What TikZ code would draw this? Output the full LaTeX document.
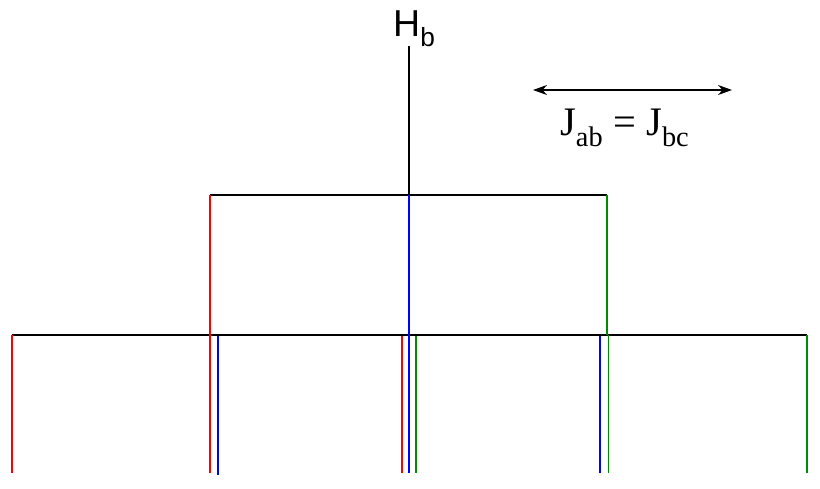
\documentclass[tikz,border=0pt]{standalone}
\usepackage{fontspec}
\setmainfont{Liberation Serif}
\newfontfamily\arialf{Liberation Sans}
\usetikzlibrary{arrows.meta}
\begin{document}
\begin{tikzpicture}[x=1pt,y=-1pt,
  ln/.style={line width=1.6pt},
  bk/.style={ln,black},
  rd/.style={ln,red},
  bl/.style={ln,blue},
  gr/.style={ln,green!55!black},
  lbl/.style={inner sep=0pt,anchor=base west}]
\useasboundingbox (0,0) rectangle (820,488);
% coordinates
\coordinate (top) at (409,46);
\coordinate (tc) at (409,195);
\coordinate (tl) at (210,195);
\coordinate (tr) at (607,195);
\coordinate (bl) at (12,335);
\coordinate (br) at (807,335);
\coordinate (ml) at (210,335);
\coordinate (mc) at (409,335);
\coordinate (mr) at (607,335);
% black lines
\draw[bk] (top) -- (tc);
\draw[bk] (tl) -- (tr);
\draw[bk] (bl) -- (br);
% upper verticals
\draw[rd] (tl) -- (ml);
\draw[bl] (tc) -- (mc);
\draw[gr] (tr) -- (mr);
% lower verticals
\coordinate (r1a) at (12,335);   \coordinate (r1b) at (12,473);
\coordinate (r2a) at (210,335);  \coordinate (r2b) at (210,473);
\coordinate (b2a) at (218,336);  \coordinate (b2b) at (218,475);
\coordinate (r3a) at (402,336);  \coordinate (r3b) at (402,473);
\coordinate (b3a) at (409,335);  \coordinate (b3b) at (409,473);
\coordinate (g3a) at (416,336);  \coordinate (g3b) at (416,473);
\coordinate (b4a) at (600,336);  \coordinate (b4b) at (600,473);
\coordinate (g4a) at (608.5,335);  \coordinate (g4b) at (608.5,473);
\coordinate (g5a) at (807,335);  \coordinate (g5b) at (807,473);
\draw[rd] (r1a) -- (r1b);
\draw[rd] (r2a) -- (r2b);
\draw[bl] (b2a) -- (b2b);
\draw[rd] (r3a) -- (r3b);
\draw[bl] (b3a) -- (b3b);
\draw[gr] (g3a) -- (g3b);
\draw[bl] (b4a) -- (b4b);
\draw[gr] (g4a) -- (g4b);
\draw[gr] (g5a) -- (g5b);
% labels
\node[lbl] (hb) at (393,36) {\arialf\fontsize{37.5}{40}\selectfont H\textsubscript{b}};
\coordinate (al) at (533,90);
\coordinate (ar) at (732,90);
\draw[line width=1.5pt,{Stealth[length=14pt,width=10pt]}-{Stealth[length=14pt,width=10pt]}] (al) -- (ar);
\node[lbl] (jj) at (560,135) {\fontsize{40.5}{44}\selectfont J\textsubscript{ab} = J\textsubscript{bc}};
\end{tikzpicture}
\end{document}
